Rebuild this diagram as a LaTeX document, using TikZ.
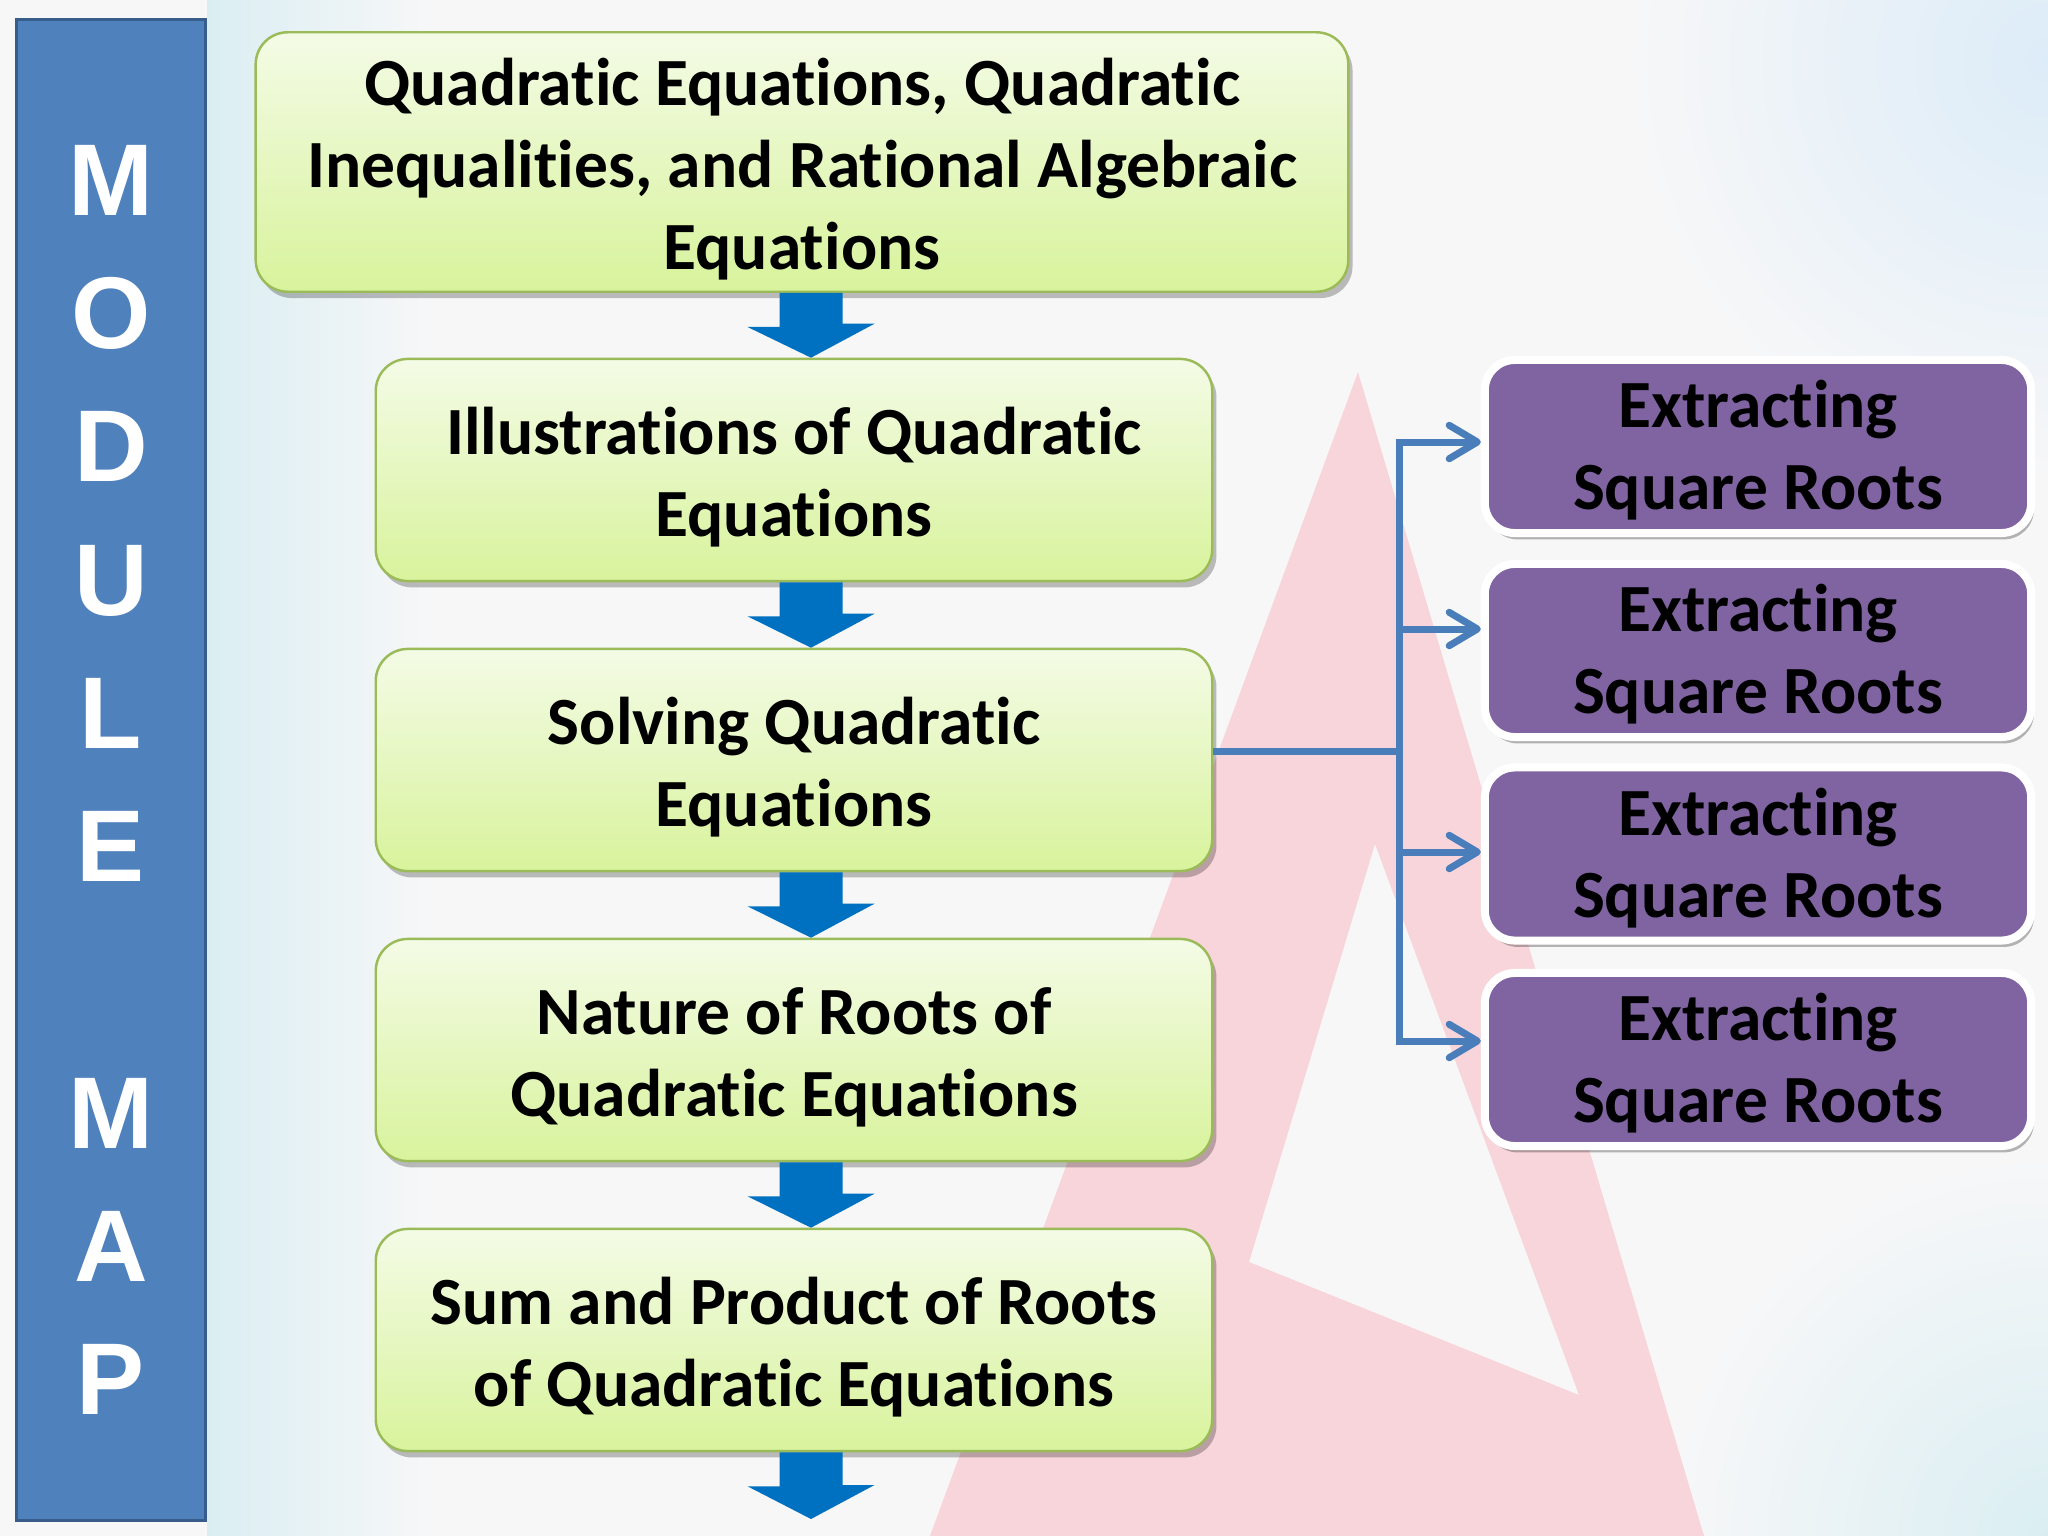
\documentclass[tikz,border=0pt]{standalone}
\usepackage{fontspec}
\setmainfont{Carlito}[Ligatures=NoCommon]
\newfontfamily\barfont{Liberation Sans}
\usetikzlibrary{calc,shadows,arrows.meta}

\definecolor{greenborder}{HTML}{9BBB59}
\definecolor{greentop}{HTML}{F4FBE6}
\definecolor{greenbot}{HTML}{D8F39C}
\definecolor{purplefill}{HTML}{8064A2}
\definecolor{barfill}{HTML}{4F81BD}
\definecolor{barborder}{HTML}{385D8A}
\definecolor{arrowblue}{HTML}{0070C0}
\definecolor{connblue}{HTML}{4A7EBB}
\definecolor{pinkbg}{HTML}{F8D5DB}
\definecolor{cyanbg}{HTML}{DAEEF2}
\definecolor{bluebg}{HTML}{DCECF8}
\definecolor{paper}{HTML}{F7F7F8}

\newcommand{\blockarrow}[2]{%
  \fill[arrowblue] ($(811,0 |- #1)+(-31.5,0)$) -- ++(0,34) -- ++(-32,0)
    -- (811,0 |- #2) -- ++(63.5,-34) -- ++(-32,0)
    -- ($(811,0 |- #1)+(31.5,0)$) -- cycle;}
\newcommand{\gstrut}{\rule{0pt}{17.5pt}}
\newcommand{\pstrut}{\rule{0pt}{15.7pt}}

\begin{document}
\begin{tikzpicture}[x=0.01cm,y=-0.01cm,
  greenbox/.style={rectangle, rounded corners=0.32cm, draw=greenborder,
    line width=0.7pt, top color=greentop, bottom color=greenbot,
    minimum width=8.36cm, minimum height=2.22cm, align=center,
    font=\bfseries\fontsize{19.2}{23.3}\selectfont,
    drop shadow={shadow xshift=1.2pt, shadow yshift=-1.8pt, opacity=0.25, fill=black}},
  purplebox/.style={rectangle, rounded corners=0.3cm, draw=white,
    line width=0.08cm, fill=purplefill, minimum width=5.46cm,
    minimum height=1.73cm, align=center,
    font=\bfseries\fontsize{19.2}{23.3}\selectfont,
    drop shadow={shadow xshift=0.8pt, shadow yshift=-1.8pt, opacity=0.28, fill=black}},
  barbox/.style={rectangle, fill=barfill, draw=barborder, line width=0.03cm,
    minimum width=1.89cm, minimum height=15.01cm},
  barletters/.style={text=white, align=center,
    font=\barfont\bfseries\fontsize{29}{37.9}\selectfont},
  conn/.style={draw=connblue, line width=0.07cm, line join=miter},
  tip/.style={-{Straight Barb[length=8pt,width=9.5pt,round]}}
]
\useasboundingbox (0,0) rectangle (2048,1536);

% background
\fill[paper] (0,0) rectangle (2048,1536);
\shade[inner color=bluebg, outer color=paper] (2048,60) circle (420);
\shade[inner color=cyanbg, outer color=paper] (2048,1536) circle (380);
\shade[left color=cyanbg, right color=paper] (207,0) rectangle (430,1536);
\fill[pinkbg, even odd rule] (1358,372) -- (930,1536) -- (1704,1536) -- cycle
  (1375,844) -- (1249,1262) -- (1579,1395) -- cycle;

% left bar
\node[barbox] (bar) at (111,770) {};
\node[barletters] (lbl) at (111,780) {M\\O\\D\\U\\L\\E\\[37.9pt]M\\A\\P};

% main column
\node[greenbox, minimum width=10.92cm, minimum height=2.55cm] (g1) at (802,162)
  {\gstrut Quadratic Equations, Quadratic\\Inequalities, and Rational Algebraic\\Equations};
\node[greenbox] (g2) at (794,470) {\gstrut Illustrations of Quadratic\\Equations};
\node[greenbox] (g3) at (794,760) {\gstrut Solving Quadratic\\Equations};
\node[greenbox] (g4) at (794,1050) {\gstrut Nature of Roots of\\Quadratic Equations};
\node[greenbox] (g5) at (794,1340) {\gstrut Sum and Product of Roots\\of Quadratic Equations};
\coordinate (endpt) at (811,1519);

\blockarrow{g1.south}{g2.north}
\blockarrow{g2.south}{g3.north}
\blockarrow{g3.south}{g4.north}
\blockarrow{g4.south}{g5.north}
\blockarrow{g5.south}{endpt}

% right column
\node[purplebox] (p1) at (1758,446.5) {\pstrut Extracting\\Square Roots};
\node[purplebox] (p2) at (1758,650.5) {\pstrut Extracting\\Square Roots};
\node[purplebox] (p3) at (1758,854) {\pstrut Extracting\\Square Roots};
\node[purplebox] (p4) at (1758,1059.5) {\pstrut Extracting\\Square Roots};

\coordinate (trunk) at (1399,751);
\draw[conn] ($(g3.east)+(0,-9)$) -- (trunk);
\draw[conn,tip] (trunk) |- ($(p1.west)+(0,-4.5)$);
\draw[conn,tip] (trunk) |- ($(p2.west)+(0,-21.5)$);
\draw[conn,tip] (trunk) |- ($(p3.west)+(0,-2)$);
\draw[conn,tip] (trunk) |- ($(p4.west)+(0,-18.5)$);
\end{tikzpicture}
\end{document}
